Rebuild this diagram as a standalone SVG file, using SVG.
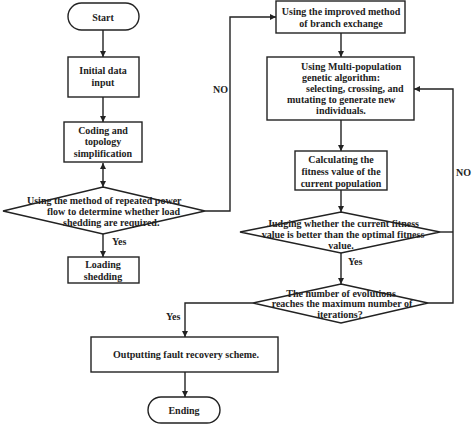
<svg xmlns="http://www.w3.org/2000/svg" width="474" height="424" viewBox="0 0 474 424">
<style>
.s{fill:#fff;stroke:#222;stroke-width:1.4}
.c{fill:none;stroke:#222;stroke-width:1.4}
text{font-family:"Liberation Serif","Times New Roman",serif;font-weight:bold;font-size:10px;fill:#222}
.m{text-anchor:middle}
</style>
<defs>
<marker id="a" viewBox="0 0 10 10" refX="10" refY="5" markerWidth="6" markerHeight="6" orient="auto-start-reverse" markerUnits="userSpaceOnUse"><path d="M0,0L10,5L0,10z" fill="#222"/></marker>
</defs>
<g id="connectors">
<path class="c" d="M103,30V57" marker-end="url(#a)"/>
<path class="c" d="M103,97V122" marker-end="url(#a)"/>
<path class="c" d="M103,163V187" marker-start="url(#a)" marker-end="url(#a)"/>
<path class="c" d="M103,234V257" marker-end="url(#a)"/>
<path class="c" d="M205,211H230V17H276" marker-end="url(#a)"/>
<path class="c" d="M341,33V57" marker-end="url(#a)"/>
<path class="c" d="M341,120V151" marker-end="url(#a)"/>
<path class="c" d="M341,190V212" marker-end="url(#a)"/>
<path class="c" d="M341,253V284" marker-end="url(#a)"/>
<path class="c" d="M440,232H453"/>
<path class="c" d="M428,303H453V89H414" marker-end="url(#a)"/>
<path class="c" d="M253,303H185V337" marker-end="url(#a)"/>
<path class="c" d="M185,372V397" marker-end="url(#a)"/>
<text x="213" y="93">NO</text>
<text x="112" y="245">Yes</text>
<text x="348" y="265">Yes</text>
<text x="456" y="176">NO</text>
<text x="166" y="320">Yes</text>
</g>
<g id="start">
<rect class="s" x="68" y="3" width="71" height="27" rx="13.5"/>
<text class="m" x="103" y="21">Start</text>
</g>
<g id="init">
<rect class="s" x="68" y="57" width="71" height="40"/>
<text class="m" x="103" y="74">Initial data</text>
<text class="m" x="103" y="86">input</text>
</g>
<g id="coding">
<rect class="s" x="64" y="122" width="78" height="40"/>
<text class="m" x="103" y="134">Coding and</text>
<text class="m" x="103" y="145">topology</text>
<text class="m" x="103" y="157">simplification</text>
</g>
<g id="decision1">
<polygon class="s" points="103,187 205,211 103,234 3,211"/>
<text x="27" y="204">Using the method of repeated power</text>
<text x="47" y="215">flow to determine whether load</text>
<text x="63" y="226">shedding are required.</text>
</g>
<g id="loading">
<rect class="s" x="68" y="257" width="71" height="26"/>
<text class="m" x="103" y="268">Loading</text>
<text class="m" x="103" y="280">shedding</text>
</g>
<g id="branch">
<rect class="s" x="276" y="1" width="129" height="32"/>
<text class="m" x="341" y="15">Using the improved method</text>
<text class="m" x="341" y="27">of branch exchange</text>
</g>
<g id="ga">
<rect class="s" x="267" y="57" width="147" height="63"/>
<text x="301" y="70">Using Multi-population</text>
<text x="302" y="81">genetic algorithm:</text>
<text x="306" y="92">selecting, crossing, and</text>
<text x="287" y="103">mutating to generate new</text>
<text class="m" x="341" y="114">individuals.</text>
</g>
<g id="fitness">
<rect class="s" x="295" y="151" width="92" height="39"/>
<text class="m" x="341" y="163">Calculating the</text>
<text class="m" x="341" y="175">fitness value of the</text>
<text class="m" x="341" y="187">current population</text>
</g>
<g id="decision2">
<polygon class="s" points="341,212 440,232 341,253 240,232"/>
<text class="m" x="343" y="227">Judging whether the current fitness</text>
<text class="m" x="343" y="238">value is better than the optimal fitness</text>
<text class="m" x="341" y="249">value.</text>
</g>
<g id="decision3">
<polygon class="s" points="341,284 428,303 341,323 253,303"/>
<text class="m" x="341" y="297">The number of evolutions</text>
<text class="m" x="342" y="307">reaches the maximum number of</text>
<text class="m" x="340" y="318">iterations?</text>
</g>
<g id="output">
<rect class="s" x="91" y="337" width="187" height="35"/>
<text class="m" x="186" y="358">Outputting fault recovery scheme.</text>
</g>
<g id="ending">
<rect class="s" x="148" y="397" width="72" height="26" rx="13"/>
<text class="m" x="184" y="414">Ending</text>
</g>
</svg>
